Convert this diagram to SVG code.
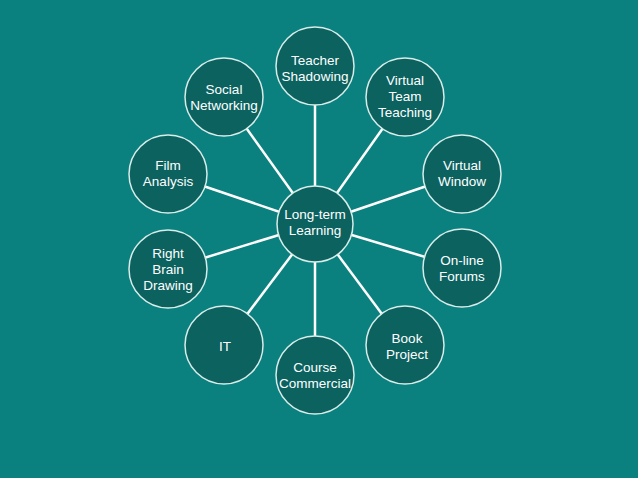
<svg xmlns="http://www.w3.org/2000/svg" width="638" height="478" viewBox="0 0 638 478">
<style>
.n{fill:#0b625f;stroke:#d8ecea;stroke-width:1.5}
.t{font-family:"Liberation Sans",Arial,sans-serif;font-size:13.5px;fill:#ffffff;text-anchor:middle}
.c line{stroke:#ffffff;stroke-width:2.5}
</style>
<rect width="638" height="478" fill="#0a817e"/>
<g id="connectors" class="c">
<line x1="315" y1="224" x2="315" y2="66"/>
<line x1="315" y1="224" x2="405" y2="97"/>
<line x1="315" y1="224" x2="462" y2="174"/>
<line x1="315" y1="224" x2="462" y2="268"/>
<line x1="315" y1="224" x2="405" y2="345"/>
<line x1="315" y1="224" x2="315" y2="375"/>
<line x1="315" y1="224" x2="224" y2="345"/>
<line x1="315" y1="224" x2="168" y2="269"/>
<line x1="315" y1="224" x2="168" y2="174"/>
<line x1="315" y1="224" x2="224" y2="97"/>
</g>
<g id="center"><circle class="n" cx="315" cy="224" r="38"/><text class="t" x="315" y="219">Long-term</text><text class="t" x="315" y="235">Learning</text></g>
<g id="teacher"><circle class="n" cx="315" cy="66" r="39"/><text class="t" x="315" y="65">Teacher</text><text class="t" x="315" y="81">Shadowing</text></g>
<g id="vteam"><circle class="n" cx="405" cy="97" r="39"/><text class="t" x="405" y="85">Virtual</text><text class="t" x="405" y="101">Team</text><text class="t" x="405" y="117">Teaching</text></g>
<g id="vwindow"><circle class="n" cx="462" cy="174" r="39"/><text class="t" x="462" y="170">Virtual</text><text class="t" x="462" y="186">Window</text></g>
<g id="forums"><circle class="n" cx="462" cy="268" r="39"/><text class="t" x="462" y="265">On-line</text><text class="t" x="462" y="281">Forums</text></g>
<g id="book"><circle class="n" cx="405" cy="345" r="39"/><text class="t" x="407" y="343">Book</text><text class="t" x="407" y="359">Project</text></g>
<g id="course"><circle class="n" cx="315" cy="375" r="39"/><text class="t" x="315" y="372">Course</text><text class="t" x="315" y="388">Commercial</text></g>
<g id="it"><circle class="n" cx="224" cy="345" r="39"/><text class="t" x="225" y="351">IT</text></g>
<g id="rightbrain"><circle class="n" cx="168" cy="269" r="39"/><text class="t" x="168" y="258">Right</text><text class="t" x="168" y="274">Brain</text><text class="t" x="168" y="290">Drawing</text></g>
<g id="film"><circle class="n" cx="168" cy="174" r="39"/><text class="t" x="168" y="170">Film</text><text class="t" x="168" y="186">Analysis</text></g>
<g id="social"><circle class="n" cx="224" cy="97" r="39"/><text class="t" x="224" y="94">Social</text><text class="t" x="224" y="110">Networking</text></g>
</svg>
